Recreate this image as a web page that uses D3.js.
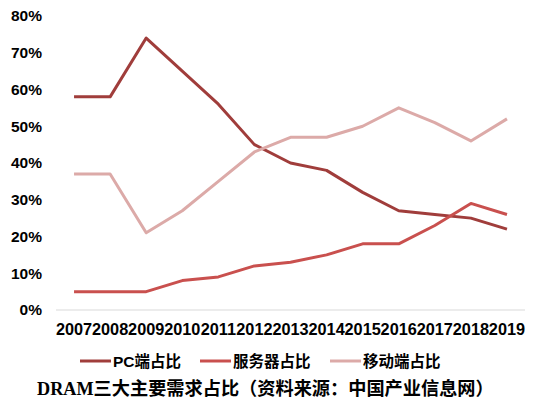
<!DOCTYPE html>
<html><head><meta charset="utf-8">
<script src="https://cdn.jsdelivr.net/npm/d3@7"></script>
<style>body{margin:0;background:#fff}svg{display:block}</style>
</head><body>
<svg id="c" width="549" height="406"></svg>
<script>
const years = ["2007","2008","2009","2010","2011","2012","2013","2014","2015","2016","2017","2018","2019"];
const pcShare = [58,58,74,65,56,45,40,38,32,27,26,25,22];
const serverShare = [5,5,5,8,9,12,13,15,18,18,23,29,26];
const mobileShare = [37,37,21,27,35,43,47,47,50,55,51,46,52];
const yTicks = [0,10,20,30,40,50,60,70,80];
const seriesNames = ["PC端占比","服务器占比","移动端占比"];
const seriesColors = ["#a03d3b","#c9504e","#dcaaa8"];
const title = "DRAM三大主要需求占比（资料来源：中国产业信息网）";

const svg = d3.select("#c");
const x = d3.scaleBand().domain(years).range([56, 525]);
const y = d3.scaleLinear().domain([0,80]).range([310, 16]);
const font = "'Liberation Sans', Arial, 'Noto Sans CJK SC', sans-serif";

// baseline
svg.append("line").attr("x1",56).attr("x2",525).attr("y1",y(0)).attr("y2",y(0))
  .attr("stroke","#d9d9d9").attr("stroke-width",1);

// y axis
const ya = svg.append("g").attr("transform","translate(44,0)")
  .call(d3.axisLeft(y).tickValues(yTicks).tickFormat(d=>d+"%").tickSize(0).tickPadding(2));
ya.select(".domain").remove();
ya.selectAll("text").attr("font-family",font).attr("font-weight","bold").attr("font-size",15.5).attr("fill","#000");

// x axis
const xa = svg.append("g").attr("transform","translate(0,"+y(0)+")")
  .call(d3.axisBottom(x).tickSize(0).tickPadding(13));
xa.select(".domain").remove();
xa.selectAll("text").attr("font-family",font).attr("font-weight","bold").attr("font-size",16.3).attr("fill","#000");

const data = [pcShare, serverShare, mobileShare];
const line = d3.line().x((d,i)=>x(years[i])+x.bandwidth()/2).y(d=>y(d));
data.forEach((s,k)=>{
  svg.append("path").datum(s).attr("d",line).attr("fill","none")
    .attr("stroke",seriesColors[k]).attr("stroke-width",3).attr("stroke-linejoin","round");
});

// legend
const legX = [80, 200, 330];
const lg = svg.append("g");
seriesNames.forEach((n,k)=>{
  lg.append("line").attr("x1",legX[k]).attr("x2",legX[k]+31).attr("y1",361).attr("y2",361)
    .attr("stroke",seriesColors[k]).attr("stroke-width",3);
  lg.append("text").attr("x",legX[k]+33).attr("y",367).text(n)
    .attr("font-family",font).attr("font-weight","bold").attr("font-size",15.5).attr("fill","#000");
});

svg.append("text").attr("x",37).attr("y",395).text(title)
  .attr("font-family","'Liberation Serif','Noto Sans CJK SC',serif").attr("font-weight","bold")
  .attr("font-size",18.2).attr("fill","#000");
</script>
</body></html>
